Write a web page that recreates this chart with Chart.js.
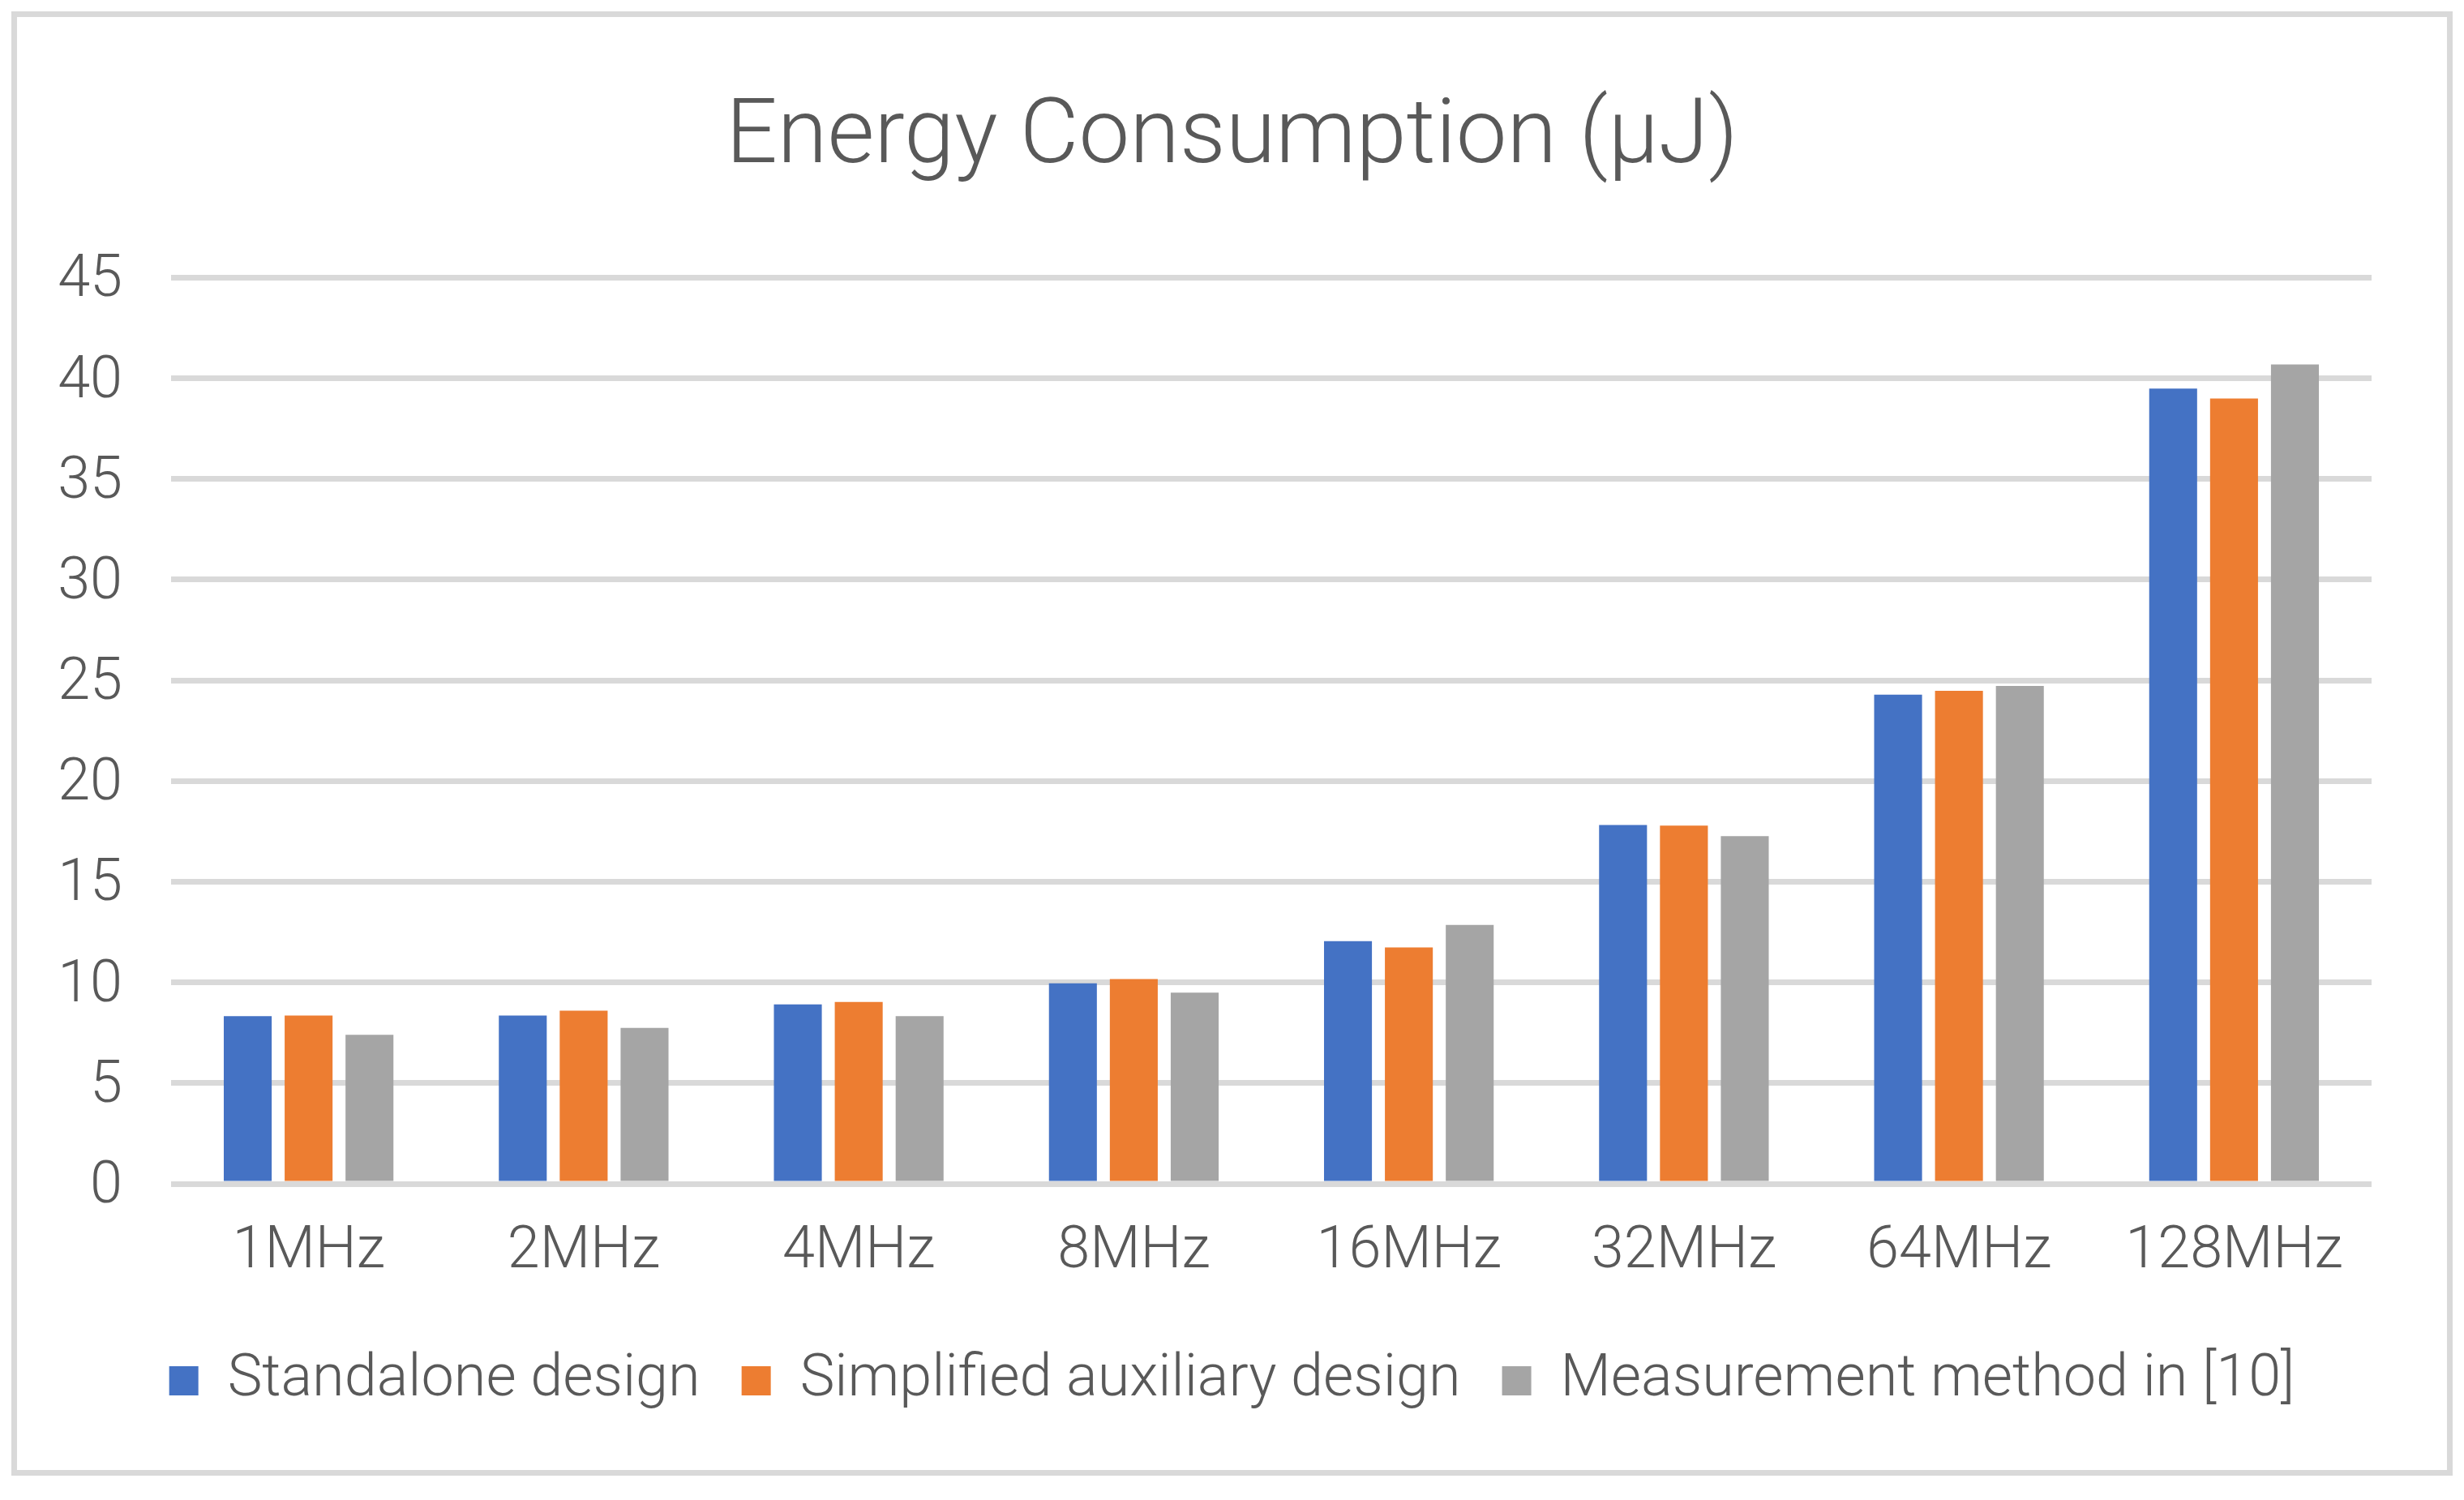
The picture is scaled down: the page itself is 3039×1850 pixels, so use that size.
<!DOCTYPE html>
<html>
<head>
<meta charset="utf-8">
<script src="https://cdn.jsdelivr.net/npm/chart.js@4.4.1/dist/chart.umd.min.js"></script>
<style>
  html, body { margin: 0; padding: 0; background: #ffffff; }
  #wrap { position: absolute; left: 0; top: 0; width: 3039px; height: 1850px; }
  #frame { position: absolute; left: 14px; top: 14px; width: 2997px; height: 1792px; border: 7px solid #d9d9d9; pointer-events: none; }
</style>
</head>
<body>
<div id="wrap">
  <canvas id="c" width="3039" height="1850"></canvas>
  <div id="frame"></div>
</div>
<script>
const categories = ["1MHz", "2MHz", "4MHz", "8MHz", "16MHz", "32MHz", "64MHz", "128MHz"];
const standaloneDesign = [8.32, 8.35, 8.91, 9.96, 12.05, 17.82, 24.29, 39.49];
const simplifiedAuxiliaryDesign = [8.35, 8.60, 9.03, 10.17, 11.74, 17.79, 24.48, 39.0];
const measurementMethod10 = [7.40, 7.74, 8.32, 9.49, 12.85, 17.26, 24.72, 40.69];
const seriesNames = ["Standalone design", "Simplified auxiliary design", "Measurement method in [10]"];
const yTicks = [0, 5, 10, 15, 20, 25, 30, 35, 40, 45];
const chartTitle = "Energy Consumption (μJ)";

const FONT = "Roboto, 'Noto Sans', 'DejaVu Sans', sans-serif";
const TEXT = "#595959";
const colors = ["#4472c4", "#ed7d31", "#a5a5a5"];

Chart.defaults.font.family = FONT;
Chart.defaults.color = TEXT;

const ds = [standaloneDesign, simplifiedAuxiliaryDesign, measurementMethod10].map((d, i) => ({
  label: seriesNames[i],
  data: d,
  backgroundColor: colors[i],
  borderWidth: 0,
  categoryPercentage: 0.664,
  barPercentage: 0.787,
  yAxisID: "y"
}));

new Chart(document.getElementById("c"), {
  type: "bar",
  data: { labels: categories, datasets: ds },
  options: {
    responsive: false,
    animation: false,
    devicePixelRatio: 1,
    layout: { padding: { left: 50, right: 50, top: 0, bottom: 101 } },
    plugins: {
      title: {
        display: true,
        text: chartTitle,
        color: TEXT,
        font: { size: 112, weight: "300", family: FONT },
        padding: { top: 105, bottom: 103 }
      },
      legend: {
        display: true,
        position: "bottom",
        labels: {
          boxWidth: 36,
          boxHeight: 36,
          padding: 51,
          color: TEXT,
          font: { size: 72, weight: "300", family: FONT }
        }
      },
      tooltip: { enabled: false }
    },
    scales: {
      x: {
        grid: { display: false, drawTicks: false },
        border: { display: false },
        ticks: { color: TEXT, font: { size: 72, weight: "300", family: FONT }, padding: 42, maxRotation: 0, autoSkip: false },
        afterFit: (s) => { s.height = 156; }
      },
      y: {
        position: "left",
        min: 0,
        max: 45,
        grid: { color: "#d9d9d9", lineWidth: 7, drawTicks: false },
        border: { display: false },
        ticks: {
          color: TEXT,
          font: { size: 72, weight: "300", family: FONT },
          padding: 60,
          labelOffset: 5,
          stepSize: 5,
          callback: (v) => yTicks.includes(v) ? String(v) : ""
        },
        afterFit: (s) => { s.width = 161; }
      },
      spacer: {
        type: "linear",
        position: "right",
        display: true,
        grid: { display: false, drawTicks: false },
        border: { display: false },
        ticks: { display: false },
        afterFit: (s) => { s.width = 64; }
      }
    }
  }
});
</script>
</body>
</html>
